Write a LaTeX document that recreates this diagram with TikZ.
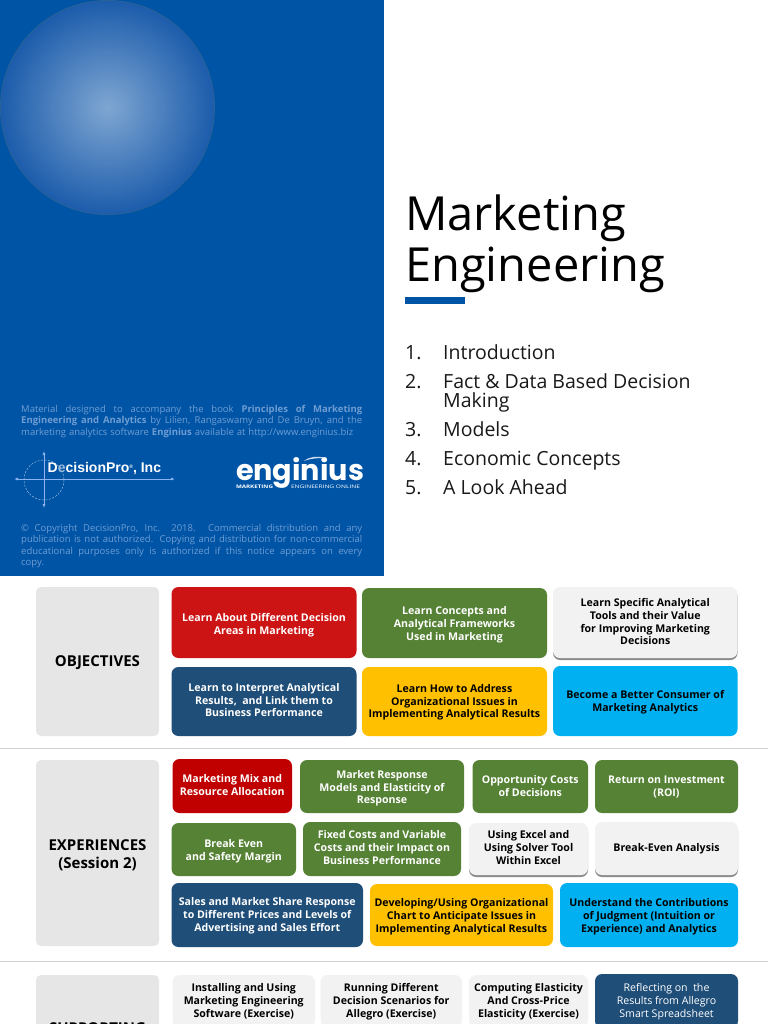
\documentclass[tikz,border=0pt]{standalone}
\usepackage{fontspec}
\setmainfont{Open Sans}
\newfontfamily\logofont{Liberation Sans}
\newfontfamily\engfont{Poppins}
\usetikzlibrary{arrows.meta,shadows}
\definecolor{panelblue}{HTML}{0054A6}
\definecolor{papertext}{HTML}{6F9DD3}
\definecolor{cred}{HTML}{CC1414}
\definecolor{cdeepred}{HTML}{C00000}
\definecolor{cgreen}{HTML}{568235}
\definecolor{cwhite}{HTML}{F2F2F2}
\definecolor{cnavy}{HTML}{1F4E79}
\definecolor{cyellow}{HTML}{FFC000}
\definecolor{ccyan}{HTML}{00B0F0}
\definecolor{cgray}{HTML}{E6E6E6}
\definecolor{spherecore}{HTML}{7FA6D2}
\definecolor{sphereedge}{HTML}{1C5CAB}
\definecolor{logoline}{HTML}{8DB4EE}
\tikzset{
  card/.style={rounded corners=7pt,inner sep=0pt,font=\fontsize{10.6}{12.9}\selectfont\bfseries},
  redcard/.style={card,fill=cred,text=white},
  deepredcard/.style={card,fill=cdeepred,text=white},
  greencard/.style={card,fill=cgreen,text=white},
  navycard/.style={card,fill=cnavy,text=white},
  yellowcard/.style={card,fill=cyellow,text=black},
  cyancard/.style={card,fill=ccyan,text=black},
  whitecard/.style={card,fill=cwhite,text=black},
  shadecard/.style={whitecard,drop shadow={shadow xshift=0pt,shadow yshift=-2pt,fill=black!45,opacity=1}},
  labelcard/.style={rounded corners=5pt,inner sep=0pt,fill=cgray,text=black,font=\fontsize{15}{18}\selectfont\bfseries},
  listnum/.style={anchor=base west,inner sep=0pt,font=\fontsize{19.5}{20}\selectfont,text=black!90},
  titletext/.style={anchor=base west,inner sep=0pt,text=black,font=\fontsize{47}{50}\selectfont},
  blurb/.style={anchor=north west,inner sep=0pt,align=left,text=papertext,font=\fontsize{9.5}{11.5}\selectfont},
  rulegray/.style={draw=black!18,line width=1pt},
  logoarrow/.style={{Latex[length=4pt,width=3pt]}-{Latex[length=4pt,width=3pt]},draw=logoline,line width=.9pt},
}
\newcommand{\bx}[8][1]{\node[#7,minimum width={(#5-#3)*1pt},minimum height={(#6-#4)*1pt}] (#2) at ({(#3+#5)/2},{(#4+#6)/2}) {\raisebox{-#1pt}[\height][\depth]{\begin{tabular}{@{}c@{}}#8\end{tabular}}};}
\newcommand{\jl}[2][341pt]{\hbox to #1{#2}}
\begin{document}
\begin{tikzpicture}[x=1pt,y=-1pt]
\useasboundingbox (0,0) rectangle (768,1024);
\clip (0,0) rectangle (768,1024);
\fill[white] (0,0) rectangle (768,1024);
% left panel
\fill[panelblue] (0,0) rectangle (384,576);
\shade[inner color=spherecore,outer color=sphereedge] (107.5,107.5) circle (107);
\draw[draw=panelblue!70!gray,line width=1pt] (107.5,107.5) circle (107);
\node[blurb] (blurb1) at (21,405) {\jl{Material designed to accompany the book \textbf{Principles of Marketing}}\\\jl{\textbf{Engineering and Analytics} by Lilien, Rangaswamy and De Bruyn, and the}\\\jl[332pt]{marketing analytics software \textbf{Enginius} available at http://www.enginius.biz}};
\node[blurb] (blurb2) at (21,524) {\jl{© Copyright DecisionPro, Inc.\ \ 2018. Commercial distribution and any}\\\jl{publication is not authorized. Copying and distribution for non-commercial}\\\jl{educational purposes only is authorized if this notice appears on every}\\copy.};
% DecisionPro logo
\draw[white!70!panelblue,line width=.4pt,dash pattern=on 2pt off 1.5pt] (44,480) circle (20);
\coordinate (hl) at (14,479); \coordinate (hr) at (175,479);
\coordinate (vt) at (44,451); \coordinate (vb) at (44,508);
\draw[logoarrow] (hl) -- (hr);
\draw[logoarrow] (vt) -- (vb);
\node[anchor=west,inner sep=0pt,text=white,font=\logofont\fontsize{14}{14}\selectfont\bfseries] (dplogo) at (47.5,469) {D{\color{white!60!panelblue}e}cisionPro{\raisebox{4pt}{\fontsize{5}{5}\selectfont ®}}, Inc};
% enginius logo
\node[anchor=center,inner sep=0pt,text=white,font=\engfont\fontsize{35}{35}\selectfont\bfseries] (englogo) at (300,473) {\resizebox{128pt}{!}{enginius}};
\node[inner sep=0pt,text=white,font=\bfseries] (engsub1) at (254.5,487) {\resizebox{37pt}{3.5pt}{MARKETING}};
\node[inner sep=0pt,text=white] (engsub2) at (325.5,487) {\resizebox{69pt}{3.5pt}{ENGINEERING ONLINE}};
\fill[white!80!panelblue] (304,461) .. controls (310,456) and (318,456) .. (326,458) .. controls (318,458) and (312,458) .. (304,461) -- cycle;
% right title
\node[titletext] (title1) at (405,231) {Marketing};
\node[titletext] (title2) at (405,281.5) {Engineering};
\fill[panelblue] (405,297) rectangle (465,304);
\node[listnum] (n1) at (405,359) {1.}; \node[listnum] (t1) at (443,359) {Introduction};
\node[listnum] (n2) at (405,388) {2.}; \node[listnum] (t2) at (443,388) {Fact \& Data Based Decision};
\node[listnum] (t2b) at (443,407) {Making};
\node[listnum] (n3) at (405,436) {3.}; \node[listnum] (t3) at (443,436) {Models};
\node[listnum] (n4) at (405,465) {4.}; \node[listnum] (t4) at (443,465) {Economic Concepts};
\node[listnum] (n5) at (405,494) {5.}; \node[listnum] (t5) at (443,494) {A Look Ahead};
% objectives
\bx[1.5]{objL}{36}{587}{159}{736}{labelcard}{OBJECTIVES}
\bx[2.5]{o1}{171.5}{587}{356.5}{658}{redcard}{Learn About Different Decision\\Areas in Marketing}
\bx[2]{o2}{362}{588}{547}{658}{greencard}{Learn Concepts and\\Analytical Frameworks\\Used in Marketing}
\bx[.5]{o3}{553}{587}{737.5}{658}{shadecard}{Learn Specific Analytical\\Tools and their Value\\for Improving Marketing\\Decisions}
\bx[0]{o4}{171.5}{667}{356.5}{736}{navycard}{Learn to Interpret Analytical\\Results,\ \ and Link them to\\Business Performance}
\bx{o5}{362}{667}{547}{736}{yellowcard}{Learn How to Address\\Organizational Issues in\\Implementing Analytical Results}
\bx{o6}{553}{666}{737.5}{736}{cyancard}{Become a Better Consumer of\\Marketing Analytics}
\draw[rulegray] (0,748) -- (768,748);
% experiences
\bx[2.5]{expL}{36}{760}{159}{946}{labelcard}{EXPERIENCES\\(Session 2)}
\bx[0]{e1}{172.5}{759}{292}{813}{deepredcard}{Marketing Mix and\\Resource Allocation}
\bx[2]{e2}{300}{760}{464}{813}{greencard}{Market Response\\Models and Elasticity of\\Response}
\bx{e3}{472.5}{760}{588}{813}{greencard}{Opportunity Costs\\of Decisions}
\bx{e4}{595}{760}{738}{813}{greencard}{Return on Investment\\(ROI)}
\bx[1.5]{e5}{171.5}{823}{296}{876}{greencard}{Break Even\\and Safety Margin}
\bx[0]{e6}{303}{822}{461}{876}{greencard}{Fixed Costs and Variable\\Costs and their Impact on\\Business Performance}
\bx[0]{e7}{469}{823}{588}{875}{shadecard}{Using Excel and\\Using Solver Tool\\Within Excel}
\bx[0]{e8}{595}{822}{738}{875}{shadecard}{Break-Even Analysis}
\bx{e9}{171.5}{883}{363}{947}{navycard}{Sales and Market Share Response\\to Different Prices and Levels of\\Advertising and Sales Effort}
\bx[2]{e10}{370}{884}{553}{946}{yellowcard}{Developing/Using Organizational\\Chart to Anticipate Issues in\\Implementing Analytical Results}
\bx[2]{e11}{560}{883}{738}{947}{cyancard}{Understand the Contributions\\of Judgment (Intuition or\\Experience) and Analytics}
\draw[rulegray] (0,961) -- (768,961);
% supporting
\bx[4]{supL}{36}{975}{159}{1077}{labelcard}{SUPPORTING}
\bx{s1}{172.5}{975}{315}{1027}{whitecard}{Installing and Using\\Marketing Engineering\\Software (Exercise)}
\bx{s2}{320.5}{975}{462}{1027}{whitecard}{Running Different\\Decision Scenarios for\\Allegro (Exercise)}
\bx{s3}{469}{975}{588}{1027}{whitecard}{Computing Elasticity\\And Cross-Price\\Elasticity (Exercise)}
\bx{s4}{595}{974}{738}{1028}{navycard}{\mdseries Reflecting on\ \ the\\\mdseries Results from Allegro\\\mdseries Smart Spreadsheet}
\end{tikzpicture}
\end{document}
